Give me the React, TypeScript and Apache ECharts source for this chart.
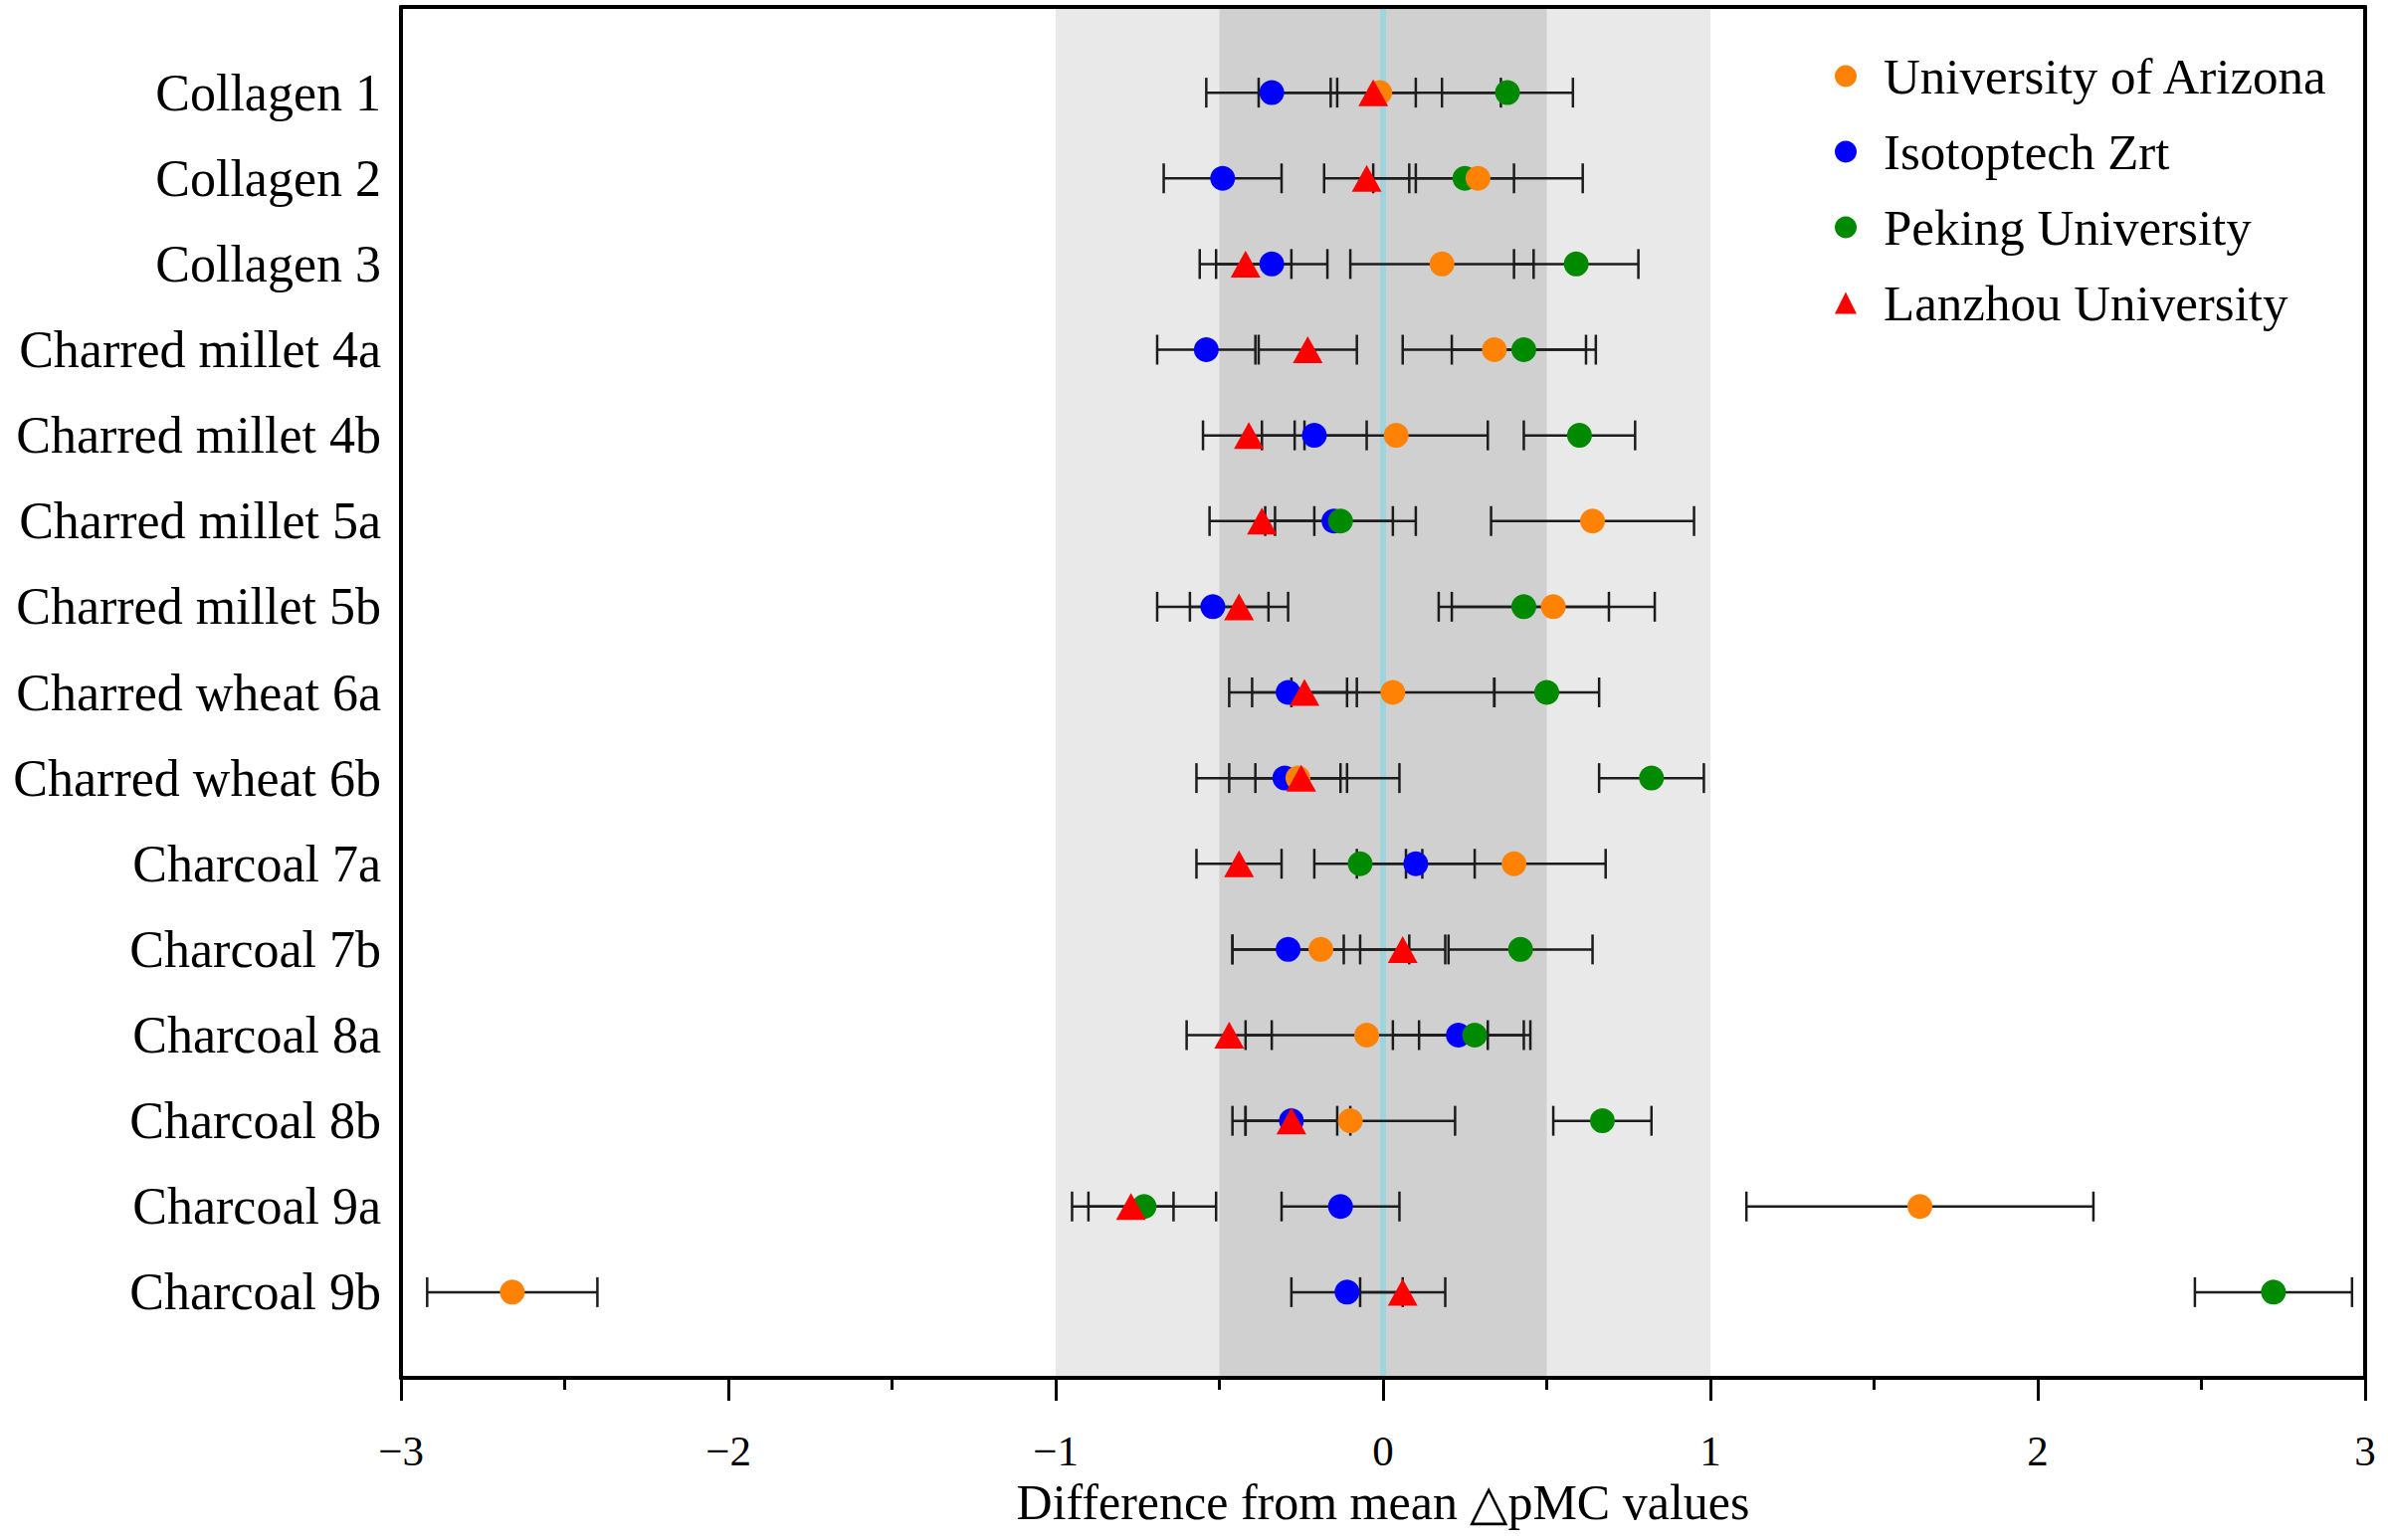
import React, { useEffect, useRef } from "react";
import * as echarts from "echarts";

// Samples, listed top to bottom
const categories = [
  "Collagen 1",
  "Collagen 2",
  "Collagen 3",
  "Charred millet 4a",
  "Charred millet 4b",
  "Charred millet 5a",
  "Charred millet 5b",
  "Charred wheat 6a",
  "Charred wheat 6b",
  "Charcoal 7a",
  "Charcoal 7b",
  "Charcoal 8a",
  "Charcoal 8b",
  "Charcoal 9a",
  "Charcoal 9b",
];

const xTickValues = [-3, -2, -1, 0, 1, 2, 3];
const outerBand = [-1, 1];
const innerBand = [-0.5, 0.5];

// Difference from mean ΔpMC (value) and its 1σ uncertainty, per laboratory
const arizonaMean = [-0.01, 0.29, 0.18, 0.34, 0.04, 0.64, 0.52, 0.03, -0.26, 0.4, -0.19, -0.05, -0.1, 1.64, -2.66];
const arizonaErr = [0.37, 0.32, 0.28, 0.28, 0.28, 0.31, 0.31, 0.31, 0.31, 0.28, 0.27, 0.37, 0.32, 0.53, 0.26];

const isotoptechMean = [-0.34, -0.49, -0.34, -0.54, -0.21, -0.15, -0.52, -0.29, -0.3, 0.1, -0.29, 0.23, -0.28, -0.13, -0.11];
const isotoptechErr = [0.2, 0.18, 0.17, 0.15, 0.16, 0.18, 0.17, 0.18, 0.17, 0.18, 0.17, 0.2, 0.18, 0.18, 0.17];

const pekingMean = [0.38, 0.25, 0.59, 0.43, 0.6, -0.13, 0.43, 0.5, 0.82, -0.07, 0.42, 0.28, 0.67, -0.73, 2.72];
const pekingErr = [0.2, 0.15, 0.19, 0.22, 0.17, 0.23, 0.26, 0.16, 0.16, 0.14, 0.22, 0.17, 0.15, 0.22, 0.24];

const lanzhouMean = [-0.03, -0.05, -0.42, -0.23, -0.41, -0.37, -0.44, -0.24, -0.25, -0.44, 0.06, -0.47, -0.28, -0.77, 0.06];
const lanzhouErr = [0.13, 0.13, 0.14, 0.15, 0.14, 0.16, 0.15, 0.16, 0.14, 0.13, 0.13, 0.13, 0.14, 0.13, 0.13];

const labs = [
  { name: "University of Arizona", mean: arizonaMean, err: arizonaErr, color: "#ff8205", symbol: "circle", z: 5 },
  { name: "Isotoptech Zrt", mean: isotoptechMean, err: isotoptechErr, color: "#0000ff", symbol: "circle", z: 3 },
  { name: "Peking University", mean: pekingMean, err: pekingErr, color: "#008a00", symbol: "circle", z: 4 },
  { name: "Lanzhou University", mean: lanzhouMean, err: lanzhouErr, color: "#ff0000", symbol: "triangle", z: 6 },
];

const FONT = "'Liberation Serif', 'Times New Roman', serif";

const fmtTick = (v: number) => (v < 0 ? "\u2212" + Math.abs(v) : String(v));

function errorBarSeries(name: string, mean: number[], err: number[]) {
  return {
    type: "custom",
    name: name + " (error)",
    silent: true,
    z: 2,
    xAxisIndex: 0,
    yAxisIndex: 0,
    data: mean.map((m, i) => [m - err[i], m + err[i], i + 1]),
    encode: { x: [0, 1], y: 2 },
    renderItem: (_params: any, api: any) => {
      const lo = api.coord([api.value(0), api.value(2)]);
      const hi = api.coord([api.value(1), api.value(2)]);
      const cap = 15;
      const style = { stroke: "#1c1c1c", lineWidth: 2.5 };
      return {
        type: "group",
        children: [
          { type: "line", shape: { x1: lo[0], y1: lo[1], x2: hi[0], y2: hi[1] }, style },
          { type: "line", shape: { x1: lo[0], y1: lo[1] - cap, x2: lo[0], y2: lo[1] + cap }, style },
          { type: "line", shape: { x1: hi[0], y1: hi[1] - cap, x2: hi[0], y2: hi[1] + cap }, style },
        ],
      };
    },
  };
}

export default function App() {
  const ref = useRef<HTMLDivElement>(null);

  useEffect(() => {
    if (!ref.current) return;
    const chart = echarts.init(ref.current, undefined, { renderer: "svg" });

    const frameAxis = { show: true, onZero: false, lineStyle: { color: "#000", width: 4 } };

    const option: any = {
      animation: false,
      backgroundColor: "#ffffff",
      textStyle: { fontFamily: FONT, color: "#000" },
      grid: { left: 403, right: 23, top: 7, bottom: 163, containLabel: false },
      legend: {
        orient: "vertical",
        left: 1839,
        top: 46,
        itemWidth: 22,
        itemHeight: 22,
        itemGap: 25,
        data: labs.map((l) => l.name),
        textStyle: {
          fontFamily: FONT,
          fontSize: 51,
          lineHeight: 50,
          color: "#000",
          padding: [0, 0, 0, 22],
        },
      },
      xAxis: [
        {
          type: "value",
          min: xTickValues[0],
          max: xTickValues[xTickValues.length - 1],
          interval: 1,
          position: "bottom",
          z: 10,
          axisLine: frameAxis,
          axisTick: { show: true, length: 23, lineStyle: { color: "#000", width: 3 } },
          minorTick: { show: true, splitNumber: 2, length: 12, lineStyle: { color: "#000", width: 3 } },
          splitLine: { show: false },
          axisLabel: {
            fontFamily: FONT,
            fontSize: 43,
            color: "#000",
            margin: 52,
            formatter: fmtTick,
          },
          name: "Difference from mean \u25B3pMC values",
          nameLocation: "middle",
          nameGap: 88,
          nameTextStyle: { fontFamily: FONT, fontSize: 50, color: "#000" },
        },
        {
          type: "value",
          min: xTickValues[0],
          max: xTickValues[xTickValues.length - 1],
          position: "top",
          z: 10,
          axisLine: frameAxis,
          axisTick: { show: false },
          minorTick: { show: false },
          axisLabel: { show: false },
          splitLine: { show: false },
        },
      ],
      yAxis: [
        {
          type: "value",
          inverse: true,
          min: 0,
          max: categories.length + 1,
          interval: 1,
          position: "left",
          z: 10,
          axisLine: frameAxis,
          axisTick: { show: false },
          splitLine: { show: false },
          axisLabel: {
            fontFamily: FONT,
            fontSize: 52,
            color: "#000",
            margin: 20,
            formatter: (v: number) => (v >= 1 && v <= categories.length ? categories[v - 1] : ""),
          },
        },
        {
          type: "value",
          inverse: true,
          min: 0,
          max: categories.length + 1,
          position: "right",
          z: 10,
          axisLine: frameAxis,
          axisTick: { show: false },
          axisLabel: { show: false },
          splitLine: { show: false },
        },
      ],
      series: [
        // shaded agreement bands and the zero line
        {
          type: "scatter",
          name: "bands",
          data: [],
          z: 0,
          silent: true,
          xAxisIndex: 0,
          yAxisIndex: 0,
          markArea: {
            silent: true,
            z: 0,
            data: [
              [
                { xAxis: outerBand[0], itemStyle: { color: "#e9e9e9" } },
                { xAxis: outerBand[1] },
              ],
              [
                { xAxis: innerBand[0], itemStyle: { color: "#d0d0d0" } },
                { xAxis: innerBand[1] },
              ],
            ],
          },
          markLine: {
            silent: true,
            z: 1,
            symbol: ["none", "none"],
            label: { show: false },
            lineStyle: { color: "#9dd4dd", width: 6, type: "solid" },
            data: [{ xAxis: 0 }],
          },
        },
        ...labs.map((l) => errorBarSeries(l.name, l.mean, l.err)),
        ...labs.map((l) => ({
          type: "scatter",
          name: l.name,
          xAxisIndex: 0,
          yAxisIndex: 0,
          z: l.z,
          symbol: l.symbol,
          symbolSize: l.symbol === "triangle" ? [30, 27] : 25,
          itemStyle: { color: l.color, opacity: 1 },
          data: l.mean.map((m, i) => [m, i + 1]),
        })),
      ],
    };

    chart.setOption(option);
    return () => chart.dispose();
  }, []);

  return (
    <div
      ref={ref}
      style={{ position: "fixed", left: 0, top: 0, width: 2400, height: 1548, background: "#fff" }}
    />
  );
}
